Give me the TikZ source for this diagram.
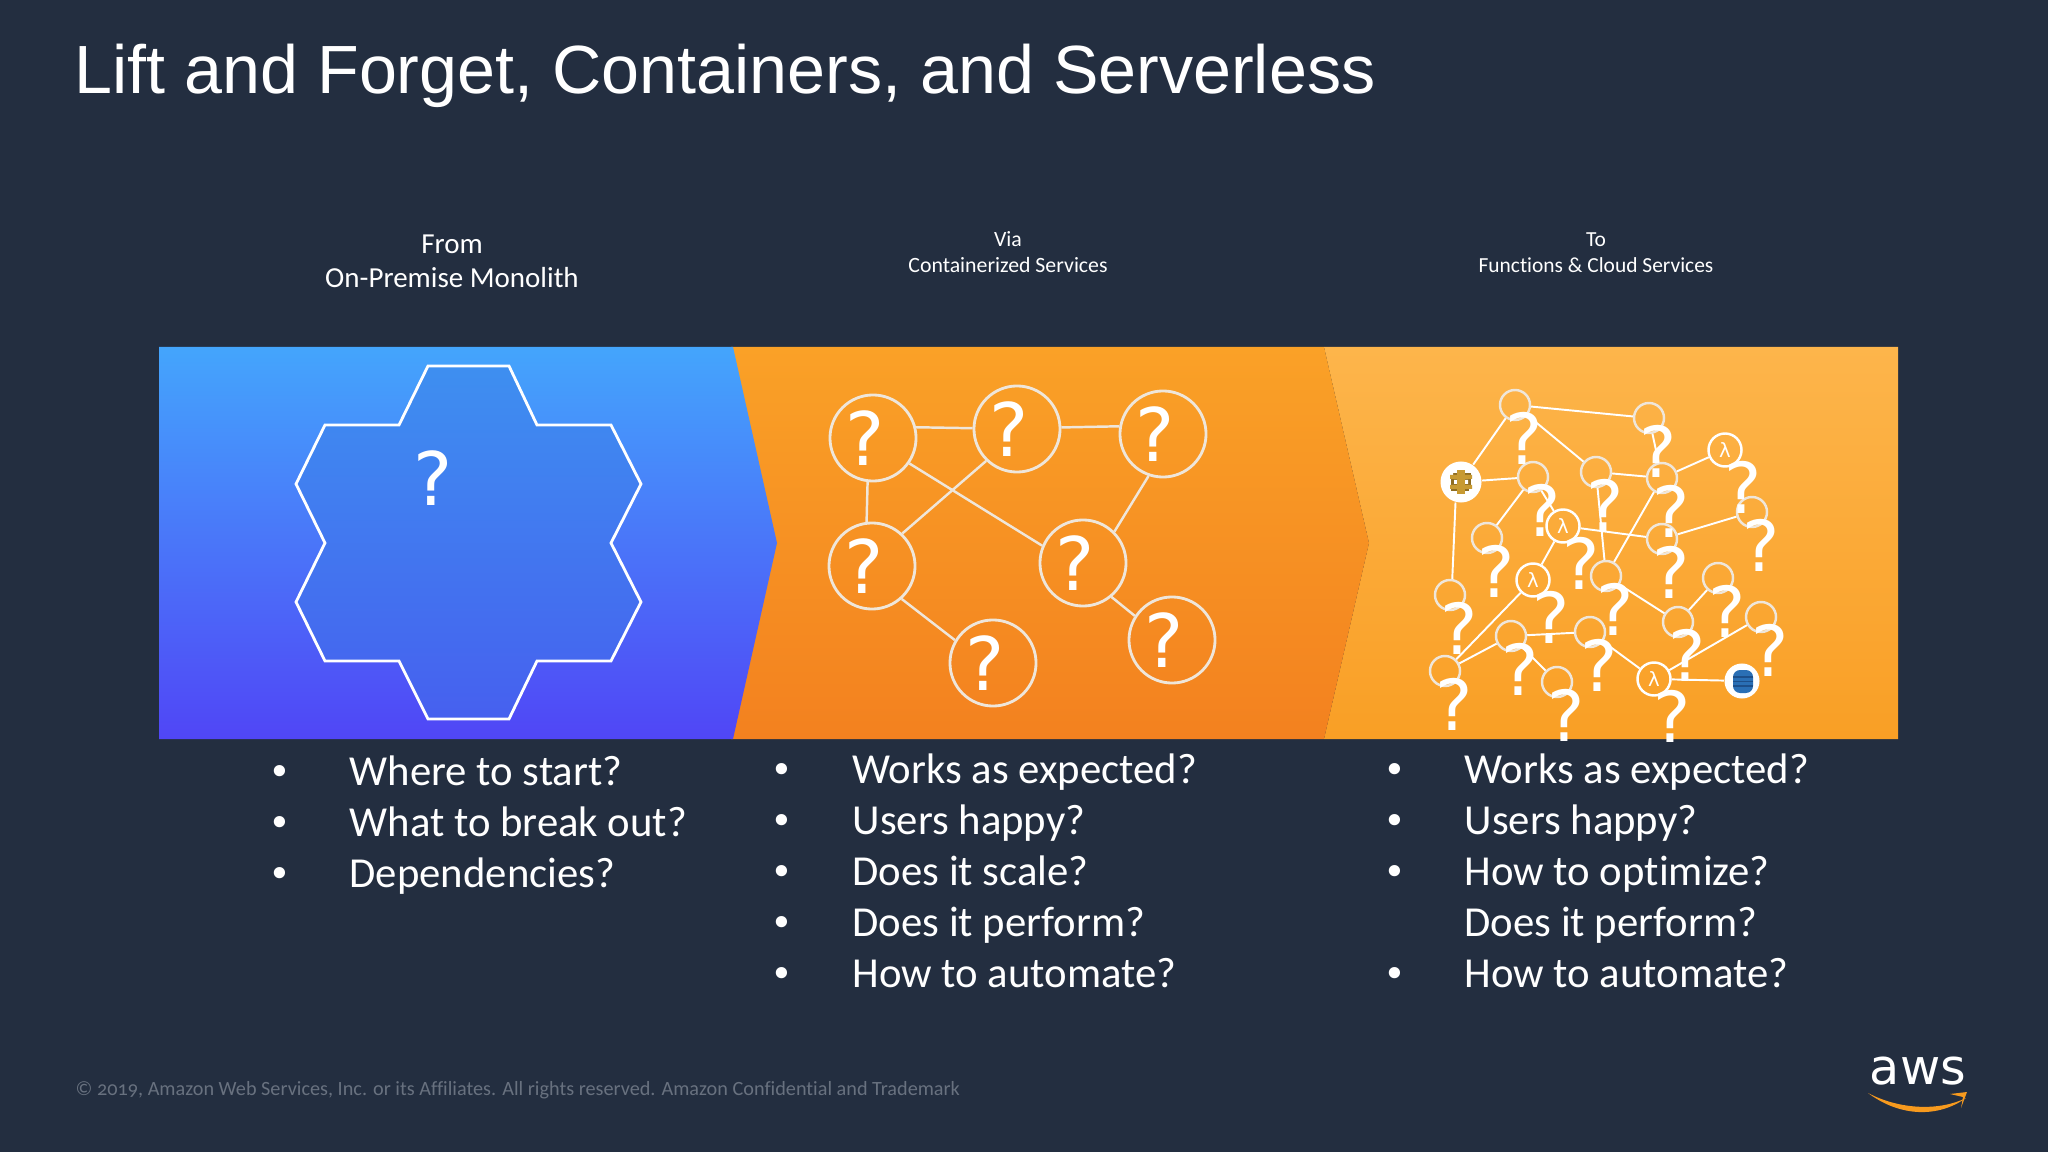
\documentclass[tikz,border=0pt]{standalone}
\usepackage{fontspec}
\usepackage{xcolor}
\usepackage{tikz}
\usetikzlibrary{arrows.meta, positioning, calc}
\setmainfont[Ligatures=NoCommon]{Carlito}
\newfontfamily\titlefont{Liberation Sans}
\newfontfamily\qfont{DejaVu Sans}
\newfontfamily\footfont[Numbers=OldStyle,Ligatures=NoCommon]{Carlito}
\definecolor{slidebg}{HTML}{232E40}
\definecolor{footgray}{HTML}{68717F}
\definecolor{ringgray}{HTML}{EFE6DA}
\definecolor{smile}{HTML}{F79A1E}
\definecolor{bluetop}{HTML}{44A5FC}
\definecolor{bluebot}{HTML}{5046F6}
\definecolor{hextop}{HTML}{3E8FF0}
\definecolor{hexbot}{HTML}{4660EF}
\definecolor{midtop}{HTML}{FAA127}
\definecolor{midbot}{HTML}{F3811F}
\definecolor{lighttop}{HTML}{FDB54B}
\definecolor{lightbot}{HTML}{F99F25}
\definecolor{gold}{HTML}{C79A32}
\definecolor{golddark}{HTML}{8F6E22}
\definecolor{dbblue}{HTML}{2A6FB5}
\definecolor{dbband}{HTML}{1D4F8A}

\begin{document}
\begin{tikzpicture}[
  x=0.01cm, y=-0.01cm,
  title/.style={font=\titlefont\fontsize{19.4pt}{24pt}\selectfont, text=white, anchor=base west, inner sep=0pt},
  head/.style={align=center, text=white, inner sep=0pt},
  item/.style={font=\fontsize{12.15pt}{14pt}\selectfont, text=white, anchor=base west, inner sep=0pt},
  dot/.style={font=\qfont\fontsize{11pt}{12pt}\selectfont, text=white, inner sep=0pt},
  bigq/.style={circle, draw=ringgray, line width=0.8pt, minimum size=0.86cm, inner sep=0pt,
               font=\qfont\fontsize{21pt}{24pt}\selectfont, text=white},
  conn/.style={draw=ringgray, line width=0.7pt},
  netnode/.style={circle, draw=ringgray, line width=0.7pt, minimum size=0.3cm, inner sep=0pt},
  lamnode/.style={circle, draw=white, line width=0.7pt, minimum size=0.33cm, inner sep=0pt,
                  font=\qfont\fontsize{5.6pt}{6pt}\selectfont, text=white},
  icnnode/.style={circle, fill=white, inner sep=0pt},
  netq/.style={font=\qfont\fontsize{20pt}{22pt}\selectfont, text=white, inner sep=0pt},
  wire/.style={draw=white, line width=0.55pt}
]
\useasboundingbox (0,0) rectangle (2048,1152);
\fill[slidebg] (0,0) rectangle (2048,1152);

\node[title] (heading) at (74,94) {Lift and Forget, Containers, and Serverless};

\node[head, font=\fontsize{8.25pt}{9.7pt}\selectfont] (from) at (452,261) {From\\On-Premise Monolith};
\node[head, font=\fontsize{6.2pt}{7.3pt}\selectfont] (via) at (1008,252) {Via\\Containerized Services};
\node[head, font=\fontsize{6.1pt}{7.3pt}\selectfont] (to) at (1596,252.5) {To\\Functions \& Cloud Services};

% panels
\shade[top color=lighttop, bottom color=lightbot] (1324,347) -- (1898,347) -- (1898,739) -- (1324,739) -- (1369,543) -- cycle;
\shade[top color=midtop, bottom color=midbot] (731,347) -- (1324,347) -- (1369,543) -- (1324,739) -- (731,739) -- cycle;
\shade[top color=bluetop, bottom color=bluebot] (159,347) -- (733,347) -- (777,543) -- (733,739) -- (159,739) -- cycle;

% monolith
\shade[top color=hextop, bottom color=hexbot, draw=white, line width=0.8pt]
  (428,366) -- (509,366) -- (537,425) -- (611,425) -- (641,484) -- (611,543) -- (641,602) -- (611,661)
  -- (537,661) -- (509,719) -- (428,719) -- (399,661) -- (325,661) -- (296,602) -- (325,543) -- (296,484)
  -- (325,425) -- (399,425) -- cycle;
\node[font=\qfont\fontsize{21pt}{24pt}\selectfont, text=white, inner sep=0pt] (monoq) at (433,478) {?};

% containers
\foreach \nm/\x/\y in {ca/873/438, cb/1017/429, cc/1163/434, cd/872/566, ce/1083/563, cf/993/663, cg/1172/640}
  \node[bigq] (\nm) at (\x,\y) {?\kern 0.16cm};
\foreach \a/\b in {ca.14/cb.179, cb.2/cc.170, ca.263/cd.97, cb.226/cd.47, ca.-35/ce.157, cc.251/ce.45, cd.-48/cf.149, ce.-50/cg.147}
  \draw[conn] (\a) -- (\b);

% functions
\foreach \nm/\x/\y in {na/1515/405, nb/1649/418, nc/1533/477, nd/1596/472, ne/1662/478, nf/1752/512, ng/1487/538,
    nh/1662/539, ni/1606/576, nj/1718/578, nk/1450/595, nl/1678/622, nm/1761/617, nn/1511/636, no/1590/632,
    np/1445/671, nq/1557/682}
  \node[netnode] (\nm) at (\x,\y) {};
\foreach \nm/\x/\y in {la/1725/450, lb/1563/526, lc/1533/580, ld/1654/679}
  \node[lamnode] (\nm) at (\x,\y) {λ};
\node[icnnode, minimum size=0.41cm] (apigw) at (1461,482) {};
\node[icnnode, minimum size=0.35cm] (dyndb) at (1742,681) {};

\foreach \a/\b in {na/nb, na/apigw, na/nd, apigw/nc, apigw.255/nk.82, nc/ng, nc/lb, lb/lc, lb/nh, nd/ne, nd/ni, ne/nb, ne/la,
    ne/ni, nh/nf, lc/np, np/nn, nn/no, nn/nq, no/ld, ni/nl, nl/nj, ld/nm, ld/dyndb}
  \draw[wire] (\a) -- (\b);

% icons
\fill[golddark] (1451,473) rectangle (1471,491);
\fill[white] (1454,480) rectangle (1468,484) (1451,473) rectangle (1453,476) (1469,488) rectangle (1471,491);
\fill[gold] (1450,475) rectangle (1472,479) (1450,485) rectangle (1472,489);
\fill[gold] (1457,470) rectangle (1465,494);
\fill[dbblue, rounded corners=2pt] (1733,670) rectangle (1753,693);
\draw[dbband, line width=0.35pt] (1733,677) -- (1753,677) (1733,681.5) -- (1753,681.5) (1733,686) -- (1753,686);

\foreach \nm in {na, nb, nc, nd, ne, nf, ng, nh, ni, nj, nk, nl, nm, nn, no, np, nq}
  \node[netq] (q\nm) at ($(\nm)+(9,33)$) {?};
\foreach \nm in {la, lb, lc, ld}
  \node[netq] (q\nm) at ($(\nm)+(18,37)$) {?};

% lists
\foreach \nm/\y/\txt in {aa/785/Where to start?, ab/836/What to break out?, ac/887/Dependencies?} {
  \node[dot] (b\nm) at (280,\y-9) {•};
  \node[item] (t\nm) at (349,\y) {\txt};
}
\foreach \nm/\y/\txt in {ba/783/Works as expected?, bb/834/Users happy?, bc/885/Does it scale?, bd/936/Does it perform?, be/987/How to automate?} {
  \node[dot] (b\nm) at (782,\y-9) {•};
  \node[item] (t\nm) at (852,\y) {\txt};
}
\foreach \nm/\y/\txt in {ca/783/Works as expected?, cb/834/Users happy?, cc/885/How to optimize?, ce/987/How to automate?} {
  \node[dot] (d\nm) at (1395,\y-9) {•};
  \node[item] (e\nm) at (1464,\y) {\txt};
}
\node[item] (ecd) at (1464,936) {Does it perform?};

\node[font=\footfont\fontsize{5.75pt}{7pt}\selectfont, text=footgray, anchor=base west, inner sep=0pt] (legal) at (75,1095)
  {© 2019, Amazon Web Services, Inc. or its Affiliates. All rights reserved. Amazon Confidential and Trademark};

\node[font=\qfont\fontsize{14pt}{16pt}\selectfont, text=white, inner sep=0pt, anchor=base] (awslogo) at (1918,1084) {aws};
\fill[smile] (1868,1093) .. controls (1900,1117) and (1938,1118) .. (1966,1098)
  .. controls (1940,1111) and (1900,1110) .. (1868,1093) -- cycle;
\fill[smile] (1950,1094) -- (1967,1092) -- (1961,1108) -- (1963,1097) -- cycle;
\end{tikzpicture}
\end{document}
